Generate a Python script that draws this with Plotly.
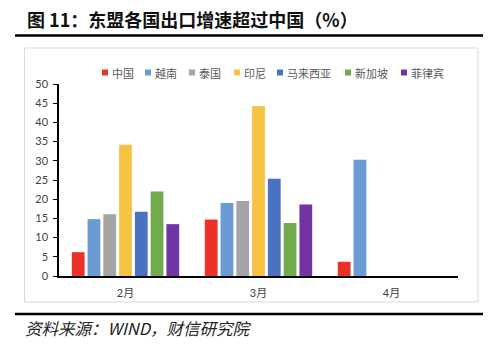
import plotly.graph_objects as go

months = ["2月", "3月", "4月"]
countries = ["中国", "越南", "泰国", "印尼", "马来西亚", "新加坡", "菲律宾"]
china = [6.2, 14.7, 3.7]
vietnam = [14.8, 19.0, 30.3]
thailand = [16.1, 19.5, None]
indonesia = [34.2, 44.3, None]
malaysia = [16.7, 25.3, None]
singapore = [22.0, 13.8, None]
philippines = [13.5, 18.6, None]
series = [china, vietnam, thailand, indonesia, malaysia, singapore, philippines]
colors = ["#E8322A", "#6A9BD3", "#A5A5A5", "#F5C244", "#4A71C2", "#72AB4C", "#7035A0"]
yticks = [0, 5, 10, 15, 20, 25, 30, 35, 40, 45, 50]

title_text = "图 11：东盟各国出口增速超过中国（%）"
source_text = "资料来源：WIND，财信研究院"

W, H = 500, 355
L, R, T, B = 59, 42, 84, 79
PW, PH = W - L - R, H - T - B

def px(x):
    return (x - L) / PW

def py(y):
    return (H - B - y) / PH

fig = go.Figure()
for name, vals, col in zip(countries, series, colors):
    fig.add_trace(go.Bar(x=months, y=vals, name=name, marker_color=col,
                         marker_line_width=0, showlegend=False))

shapes = []
annotations = []

# header / footer rules and chart frame
shapes.append(dict(type="line", xref="paper", yref="paper", x0=px(15), x1=px(483),
                   y0=py(35.5), y1=py(35.5), line=dict(color="#000000", width=2.5)))
shapes.append(dict(type="line", xref="paper", yref="paper", x0=px(15), x1=px(483),
                   y0=py(314), y1=py(314), line=dict(color="#000000", width=2.5)))
shapes.append(dict(type="rect", xref="paper", yref="paper", x0=px(24.5), x1=px(478),
                   y0=py(302), y1=py(48), line=dict(color="#D9D9D9", width=1), layer="below"))

# legend (custom, compact like the original)
leg_x = [105, 148, 192, 237, 280, 348, 404]
leg_y = 72.5
for xc, name, col in zip(leg_x, countries, colors):
    shapes.append(dict(type="rect", xref="paper", yref="paper", x0=px(xc - 3), x1=px(xc + 3),
                       y0=py(leg_y + 3), y1=py(leg_y - 3), fillcolor=col, line=dict(width=0)))
    annotations.append(dict(text=name, xref="paper", yref="paper", x=px(xc + 4.5), y=py(leg_y),
                            xanchor="left", yanchor="middle", showarrow=False,
                            font=dict(family="Noto Sans CJK SC", size=11, color="#595959")))

annotations.append(dict(text="<b>" + title_text + "</b>", xref="paper", yref="paper",
                        x=px(25), y=py(19), xanchor="left", yanchor="middle", showarrow=False,
                        font=dict(family="Noto Sans CJK SC", size=18, color="#111111")))
annotations.append(dict(text="<i>" + source_text + "</i>", xref="paper", yref="paper",
                        x=px(23), y=py(328), xanchor="left", yanchor="middle", showarrow=False,
                        font=dict(family="Noto Sans CJK SC", size=16.5, color="#222222")))

fig.update_layout(
    width=W, height=H,
    margin=dict(l=L, r=R, t=T, b=B, pad=0),
    paper_bgcolor="white", plot_bgcolor="white",
    barmode="group", bargap=0.17, bargroupgap=0.19,
    shapes=shapes, annotations=annotations,
    font=dict(family="Lato, Noto Sans CJK SC", size=11, color="#595959"),
)
fig.update_yaxes(range=[0, 50], tickvals=yticks, showgrid=False, zeroline=False,
                 showline=True, linecolor="#000000", linewidth=1.5,
                 ticks="outside", ticklen=4, tickcolor="#000000", tickwidth=1,
                 ticklabelstandoff=3,
                 tickfont=dict(family="Lato, Noto Sans CJK SC", size=11, color="#404040"))
fig.update_xaxes(showgrid=False, zeroline=False, showline=True, linecolor="#000000",
                 linewidth=1.5, ticks="outside", ticklen=6, tickcolor="rgba(0,0,0,0)",
                 tickfont=dict(family="Lato, Noto Sans CJK SC", size=11, color="#404040"))

fig.write_html("out.html", config={"displayModeBar": False},
               post_script="document.body.style.margin='0';document.body.style.padding='0';")
